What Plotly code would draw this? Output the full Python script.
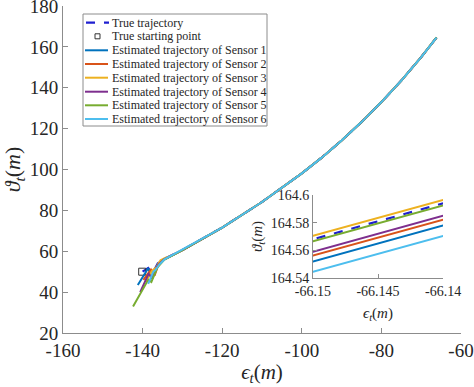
import plotly.graph_objects as go

# ---------------- data ----------------
# shared body of all trajectories (after the start transient)
body_x = [-133, -130, -120, -110, -100, -95, -90, -85, -80, -75, -70]
body_y = [57.6, 60.6, 71.6, 84.1, 98.1, 105.8, 114.2, 123.2, 133.0, 143.5, 155.0]

# end window (shown in the inset)
end_x = [-66.15, -66.14]

true_start_x = [-140.0, -138.6, -137.6, -136.2, -134.6]
true_start_y = [50.0, 51.8, 49.0, 54.0, 56.2]
true_end_y = [164.568, 164.594]

start_point_x = [-140.1]
start_point_y = [50.0]

s1_start_x = [-141.2, -138.6, -137.6, -136.2, -134.6]
s1_start_y = [43.5, 51.7, 46.5, 53.6, 56.0]
s1_end_y = [164.552, 164.578]

s2_start_x = [-139.8, -137.9, -137.0, -135.9, -134.5]
s2_start_y = [46.0, 51.0, 48.0, 54.2, 56.2]
s2_end_y = [164.5562, 164.5822]

s3_start_x = [-139.2, -137.6, -136.6, -135.5, -134.2]
s3_start_y = [45.0, 50.5, 52.0, 55.6, 56.8]
s3_end_y = [164.5705, 164.5965]

s4_start_x = [-140.6, -138.5, -137.6, -136.2, -134.6]
s4_start_y = [40.0, 49.0, 47.0, 53.0, 56.0]
s4_end_y = [164.559, 164.585]

s5_start_x = [-142.4, -138.6, -137.8, -136.3, -134.6]
s5_start_y = [33.0, 46.0, 45.0, 52.0, 55.8]
s5_end_y = [164.5665, 164.5925]

s6_start_x = [-138.6, -137.3, -136.7, -135.8, -134.5]
s6_start_y = [44.0, 50.0, 51.0, 53.5, 56.0]
s6_end_y = [164.5445, 164.5705]

true_names = ["True trajectory", "True starting point"]
sensor_names = ["Estimated trajectory of Sensor 1", "Estimated trajectory of Sensor 2",
                "Estimated trajectory of Sensor 3", "Estimated trajectory of Sensor 4",
                "Estimated trajectory of Sensor 5", "Estimated trajectory of Sensor 6"]
sensor_colors = ["#0072BD", "#D95319", "#EDB120", "#7E2F8E", "#77AC30", "#4DBEEE"]

main_x_ticks = [-160, -140, -120, -100, -80, -60]
main_x_labels = ["-160", "-140", "-120", "-100", "-80", "-60"]
main_y_ticks = [20, 40, 60, 80, 100, 120, 140, 160, 180]
main_y_labels = ["20", "40", "60", "80", "100", "120", "140", "160", "180"]
inset_x_ticks = [-66.15, -66.145, -66.14]
inset_x_labels = ["-66.15", "-66.145", "-66.14"]
inset_y_ticks = [164.54, 164.56, 164.58, 164.6]
inset_y_labels = ["164.54", "164.56", "164.58", "164.6"]

# ---------------- figure ----------------
FONT = "Liberation Serif, Times New Roman, Times, serif"
TXT = "#262626"
AX = "#8c8c8c"
TRUE_COL = "#1f1fd0"

W, H = 474, 387
ML, MR, MT, MB = 63, 13, 6, 54
PW, PH = W - ML - MR, H - MT - MB


def px(xp):
    return (xp - ML) / PW


def py(yp):
    return 1 - (yp - MT) / PH


fig = go.Figure()


def full(sx, sy, ey):
    return sx + body_x + end_x, sy + body_y + ey


sensors = [(s1_start_x, s1_start_y, s1_end_y), (s2_start_x, s2_start_y, s2_end_y),
           (s3_start_x, s3_start_y, s3_end_y), (s4_start_x, s4_start_y, s4_end_y),
           (s5_start_x, s5_start_y, s5_end_y), (s6_start_x, s6_start_y, s6_end_y)]

for axes in (("x", "y"), ("x2", "y2")):
    tx, ty = full(true_start_x, true_start_y, true_end_y)
    fig.add_trace(go.Scatter(x=tx, y=ty, mode="lines", name=true_names[0],
                             line=dict(color=TRUE_COL, width=2.2, dash="dash"),
                             xaxis=axes[0], yaxis=axes[1], showlegend=False))
    fig.add_trace(go.Scatter(x=start_point_x, y=start_point_y, mode="markers",
                             name=true_names[1],
                             marker=dict(symbol="square-open", size=7, color="#333333",
                                         line=dict(width=1)),
                             xaxis=axes[0], yaxis=axes[1], showlegend=False))
    for (sx, sy, ey), nm, col in zip(sensors, sensor_names, sensor_colors):
        xx, yy = full(sx, sy, ey)
        fig.add_trace(go.Scatter(x=xx, y=yy, mode="lines", name=nm,
                                 line=dict(color=col, width=2),
                                 xaxis=axes[0], yaxis=axes[1], showlegend=False))

# ---- compact legend (MATLAB-style spacing) ----
shapes = [dict(type="rect", xref="paper", yref="paper",
               x0=px(83), x1=px(267), y0=py(126), y1=py(14),
               line=dict(color=AX, width=1), fillcolor="white", layer="above")]
annotations = []
row_y = [22.7, 36.3, 50.3, 64.0, 77.7, 91.7, 105.3, 119.0]
all_names = true_names + sensor_names
for i, (ry, nm) in enumerate(zip(row_y, all_names)):
    if i == 0:
        shapes.append(dict(type="line", xref="paper", yref="paper",
                           x0=px(86), x1=px(109), y0=py(ry), y1=py(ry),
                           line=dict(color=TRUE_COL, width=2.2, dash="dash"), layer="above"))
    elif i == 1:
        shapes.append(dict(type="rect", xref="paper", yref="paper",
                           x0=px(95), x1=px(100), y0=py(ry + 2.5), y1=py(ry - 2.5),
                           line=dict(color="#333333", width=1), layer="above"))
    else:
        shapes.append(dict(type="line", xref="paper", yref="paper",
                           x0=px(85), x1=px(108), y0=py(ry), y1=py(ry),
                           line=dict(color=sensor_colors[i - 2], width=2), layer="above"))
    annotations.append(dict(text=nm, xref="paper", yref="paper", x=px(110), y=py(ry),
                            xanchor="left", yanchor="middle", showarrow=False,
                            font=dict(family=FONT, size=12, color=TXT)))

common = dict(showline=True, linecolor=AX, tickcolor=AX, ticks="inside",
              showgrid=False, zeroline=False, automargin=False,
              ticklabeloverflow="allow")

fig.update_layout(
    width=W, height=H,
    margin=dict(l=ML, r=MR, t=MT, b=MB, autoexpand=False),
    paper_bgcolor="white", plot_bgcolor="white",
    font=dict(family=FONT, color=TXT),
    showlegend=False,
    shapes=shapes, annotations=annotations,
    xaxis=dict(domain=[0, 1], range=[-160, -60], tickvals=main_x_ticks, ticktext=main_x_labels,
               ticklen=5, tickfont=dict(family=FONT, size=19, color=TXT),
               title=dict(text="<i>ϵ<sub>t</sub></i>(<i>m</i>)", font=dict(family=FONT, size=21, color=TXT),
                          standoff=4), **common),
    yaxis=dict(domain=[0, 1], range=[20, 180], tickvals=main_y_ticks, ticktext=main_y_labels,
               ticklen=5, tickfont=dict(family=FONT, size=19, color=TXT),
               title=dict(text="<i>ϑ<sub>t</sub></i>(<i>m</i>)", font=dict(family=FONT, size=22, color=TXT),
                          standoff=8), **common),
    xaxis2=dict(domain=[0.628, 0.955], anchor="y2", range=[-66.15, -66.14],
                tickvals=inset_x_ticks, ticktext=inset_x_labels,
                ticklen=4, tickfont=dict(family=FONT, size=14, color=TXT),
                title=dict(text="<i>ϵ<sub>t</sub></i>(<i>m</i>)", font=dict(family=FONT, size=15, color=TXT),
                           standoff=9), **common),
    yaxis2=dict(domain=[0.168, 0.422], anchor="x2", range=[164.54, 164.6],
                tickvals=inset_y_ticks, ticktext=inset_y_labels,
                ticklen=4, tickfont=dict(family=FONT, size=14, color=TXT),
                title=dict(text="<i>ϑ<sub>t</sub></i>(<i>m</i>)", font=dict(family=FONT, size=15, color=TXT),
                           standoff=4), **common),
)

fig.write_html("out.html", config={"displayModeBar": False, "staticPlot": True},
               post_script="document.body.style.margin='0';document.body.style.overflow='hidden';")
